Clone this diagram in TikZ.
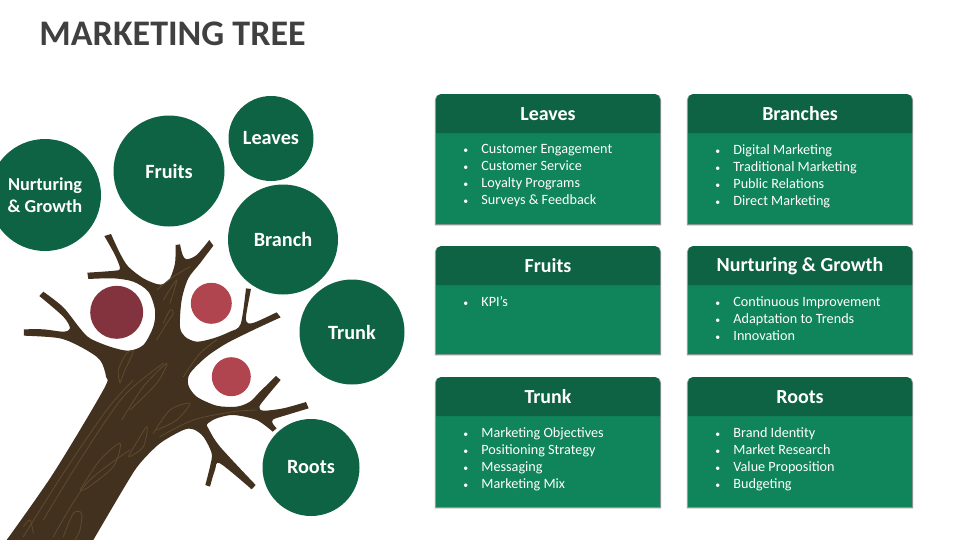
\documentclass[tikz,border=0pt]{standalone}
\usepackage{fontspec}
\setmainfont{Carlito}
\usepackage{xcolor}
\usetikzlibrary{shadows}
\definecolor{headgreen}{RGB}{13,99,68}
\definecolor{bodygreen}{RGB}{16,132,90}
\definecolor{titlegray}{RGB}{64,64,64}
\definecolor{barkbrown}{RGB}{66,49,31}
\definecolor{grainbrown}{RGB}{94,74,46}
\definecolor{darkapple}{RGB}{131,51,61}
\definecolor{redapple}{RGB}{176,69,80}
\tikzset{
  topic/.style={circle,fill=headgreen,text=white,inner sep=0pt,align=center,font=\fontsize{14.4}{15.5}\selectfont\bfseries},
  apple/.style={circle,inner sep=0pt},
  cardhead/.style={text=white,anchor=center,font=\fontsize{14.2}{17}\selectfont\bfseries},
  cardlist/.style={text=white,anchor=north west,inner sep=0pt,align=left,font=\fontsize{10.1}{12.1}\selectfont},
  cardshadow/.style={drop shadow={shadow xshift=0pt,shadow yshift=-0.2mm,shadow scale=1.01,opacity=.4,fill=black}},
  grain/.style={draw=grainbrown,line width=0.6pt,line cap=round,line join=round}
}
% name, left, top, bottom, bottom of head, title, items
\newcommand{\greencard}[7]{
  \fill[bodygreen,cardshadow] (#2,#4) -- (#2+224,#4) [rounded corners=4] -- (#2+224,#3) -- (#2,#3) [sharp corners] -- cycle;
  \fill[headgreen] (#2,#5) [rounded corners=4] -- (#2,#3) -- (#2+224,#3) [sharp corners] -- (#2+224,#5) -- cycle;
  \node[cardhead] (#1head) at (#2+112,{(#3+#5)/2+0.3}) {#6};
  \node[cardlist] (#1list) at (#2+27,#5+11.3) {#7};
}
\newcommand{\itemline}[1]{\makebox[12.9pt][l]{\scriptsize •}#1}
\begin{document}
\begin{tikzpicture}[line cap=round,line join=round,x=0.25mm,y=-0.25mm]
\useasboundingbox (0,0) rectangle (960,540);
\clip (0,0) rectangle (960,540);
\node[text=titlegray,anchor=west,inner sep=0pt,font=\fontsize{25.6}{28}\selectfont\bfseries] (title) at (39.2,34) {MARKETING TREE};
% the tree, traced in crop coordinates
\begin{scope}[shift={(0,220)},x=0.08333mm,y=-0.08333mm]
\fill[barkbrown] plot[smooth,tension=.5] coordinates {(20,960) (160,760) (310,510) (318,470) (300,420) (250,385) (180,355) (72,347)}
 -- plot[smooth,tension=.5] coordinates {(72,328) (130,328) (190,335) (210,325) (190,290) (118,228)}
 -- plot[smooth,tension=.5] coordinates {(130,215) (190,262) (240,325) (270,355) (330,380) (385,392) (430,375) (460,320) (465,270) (445,215) (400,185) (340,175) (265,177)}
 -- plot[smooth,tension=.5] coordinates {(262,158) (345,152) (360,145) (345,105) (313,48)}
 -- plot[smooth,tension=.5] coordinates {(333,42) (360,100) (385,140) (430,175) (470,192) (490,192) (510,175) (525,130) (527,75)}
 -- plot[smooth,tension=.5] coordinates {(540,73) (548,105) (560,118) (590,105) (628,60)}
 -- plot[smooth,tension=.5] coordinates {(640,77) (600,130) (565,175) (545,240) (540,320) (555,350) (590,365) (640,355) (690,335) (722,312) (738,205)}
 -- plot[smooth,tension=.5] coordinates {(753,207) (738,290) (745,310) (770,305) (830,277)}
 -- plot[smooth,tension=.5] coordinates {(842,292) (760,330) (680,370) (620,410) (570,460) (565,495) (590,530) (650,557) (710,560) (750,545) (780,515) (828,468)}
 -- plot[smooth,tension=.5] coordinates {(842,480) (800,530) (778,560) (790,572) (850,565) (918,546)}
 -- plot[smooth,tension=.5] coordinates {(926,565) (860,585) (820,598) (818,610) (830,625)}
 -- plot[smooth,tension=.5] coordinates {(818,635) (770,600) (700,585) (650,595) (622,612) (625,625) (660,680) (767,795)}
 -- plot[smooth,tension=.5] coordinates {(755,808) (660,730) (645,750) (630,800)}
 -- plot[smooth,tension=.5] coordinates {(616,795) (630,740) (635,700) (610,650) (580,628) (550,630) (480,670) (420,730) (380,790) (280,960)}
 -- cycle;
\draw[grain] plot[smooth] coordinates {(130,900) (240,720) (370,530) (490,430)};
\draw[grain] plot[smooth] coordinates {(70,950) (190,760) (320,570) (400,480)};
\draw[grain] plot[smooth] coordinates {(240,810) (300,720) (360,670) (340,740) (260,805) (240,810)};
\draw[grain] plot[smooth] coordinates {(360,490) (355,450) (380,400) (400,395) (375,450) (360,490)};
\draw[grain] plot[smooth] coordinates {(365,600) (430,500) (500,430) (470,490) (390,570)};
\draw[grain] plot[smooth] coordinates {(460,640) (510,570) (570,550) (530,600) (470,630)};
\draw[grain] plot[smooth] coordinates {(385,710) (440,620) (430,680) (390,710)};
\draw[grain] plot[smooth] coordinates {(480,650) (580,600) (700,575) (770,570)};
\draw[grain] plot[smooth] coordinates {(550,470) (600,400) (650,360)};
\draw[grain] plot[smooth] coordinates {(190,950) (220,880) (245,880) (240,930) (225,960)};
\draw[grain] plot[smooth] coordinates {(160,950) (260,790) (390,690)};
\draw[grain] plot[smooth] coordinates {(470,210) (520,170) (570,140)};
\draw[grain] plot[smooth] coordinates {(490,310) (510,270) (520,280) (500,310) (470,360)};
\draw[grain] plot[smooth] coordinates {(70,920) (90,900) (100,940)};
\draw[grain] plot[smooth] coordinates {(490,240) (530,180) (510,250)};
\end{scope}
\node[apple,fill=darkapple,minimum size=13.25mm] (bigapple) at (116.7,312.3) {};
\node[apple,fill=redapple,minimum size=10.25mm] (midapple) at (211.3,303.3) {};
\node[apple,fill=redapple,minimum size=9.75mm] (lowapple) at (231.3,376.7) {};
% topic circles
\node[topic,minimum size=28mm,font=\fontsize{13}{15.5}\selectfont\bfseries] (nurturing) at (45,195) {Nurturing\\\& Growth};
\node[topic,minimum size=27.75mm] (fruits) at (169,171) {Fruits};
\node[topic,minimum size=21.25mm] (leaves) at (271,138.5) {Leaves};
\node[topic,minimum size=27.5mm] (branch) at (283,239.5) {Branch};
\node[topic,minimum size=26.25mm] (trunk) at (352,332) {Trunk};
\node[topic,minimum size=24.25mm] (roots) at (311,467.5) {Roots};
% cards
\greencard{leavescard}{436}{94}{224}{133}{Leaves}{\itemline{Customer Engagement}\\\itemline{Customer Service}\\\itemline{Loyalty Programs}\\\itemline{Surveys \& Feedback}}
\greencard{branchescard}{688}{94}{224}{133}{Branches}{\itemline{Digital Marketing}\\\itemline{Traditional Marketing}\\\itemline{Public Relations}\\\itemline{Direct Marketing}}
\greencard{fruitscard}{436}{246}{354}{285}{Fruits}{\itemline{KPI’s}}
\greencard{nurturingcard}{688}{246}{354}{285}{Nurturing \& Growth}{\itemline{Continuous Improvement}\\\itemline{Adaptation to Trends}\\\itemline{Innovation}}
\greencard{trunkcard}{436}{377}{507}{416}{Trunk}{\itemline{Marketing Objectives}\\\itemline{Positioning Strategy}\\\itemline{Messaging}\\\itemline{Marketing Mix}}
\greencard{rootscard}{688}{377}{507}{416}{Roots}{\itemline{Brand Identity}\\\itemline{Market Research}\\\itemline{Value Proposition}\\\itemline{Budgeting}}
\end{tikzpicture}
\end{document}
